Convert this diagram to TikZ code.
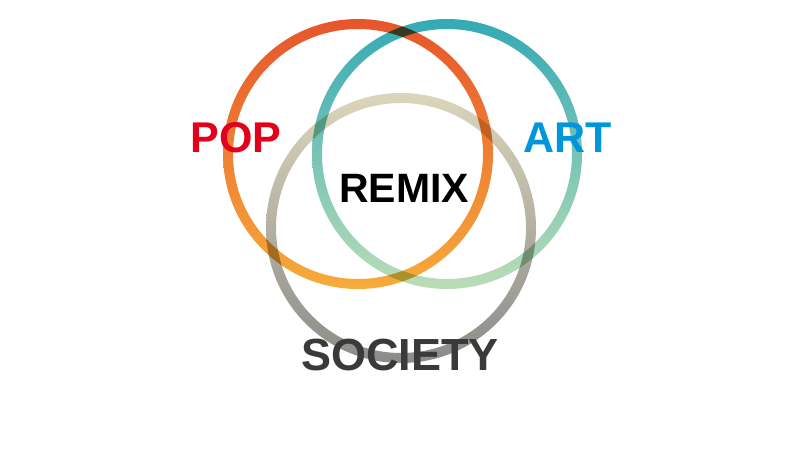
\documentclass[tikz,border=0pt]{standalone}
\usepackage{fontspec}
\setmainfont{Liberation Sans}
\definecolor{poptop}{HTML}{E5471A}
\definecolor{popbot}{HTML}{F6A52A}
\definecolor{arttop}{HTML}{23A3AF}
\definecolor{artbot}{HTML}{B5DBB0}
\definecolor{soctop}{HTML}{D8D3B6}
\definecolor{socbot}{HTML}{828280}
\definecolor{popred}{HTML}{E2001A}
\definecolor{artblue}{HTML}{0096DC}
\definecolor{socgrey}{HTML}{3A3A3A}
\tikzset{
  ring/.style={even odd rule, fill opacity=0.92, blend mode=multiply},
  label/.style={anchor=base, inner sep=0pt, font=\bfseries\fontsize{43}{43}\selectfont}
}
\begin{document}
\begin{tikzpicture}[x=1pt,y=-1pt]
\useasboundingbox (0,0) rectangle (800,457);
\fill[white] (0,0) rectangle (800,457);
\coordinate (cpop) at (358,154);
\coordinate (cart) at (447,154);
\coordinate (csoc) at (401,228);
\shade[ring, top color=poptop, bottom color=popbot] (cpop) circle[radius=135pt] (cpop) circle[radius=125pt];
\shade[ring, top color=arttop, bottom color=artbot] (cart) circle[radius=135pt] (cart) circle[radius=125pt];
\shade[ring, top color=soctop, bottom color=socbot] (csoc) circle[radius=135pt] (csoc) circle[radius=125pt];
\node[label, text=popred] (pop) at (236,153) {POP};
\node[label, text=artblue] (art) at (568,153) {ART};
\node[label, text=black, font=\bfseries\fontsize{41}{41}\selectfont] (remix) at (404,203) {REMIX};
\node[label, text=socgrey, font=\bfseries\fontsize{45}{45}\selectfont] (society) at (400,370) {SOCIETY};
\end{tikzpicture}
\end{document}
